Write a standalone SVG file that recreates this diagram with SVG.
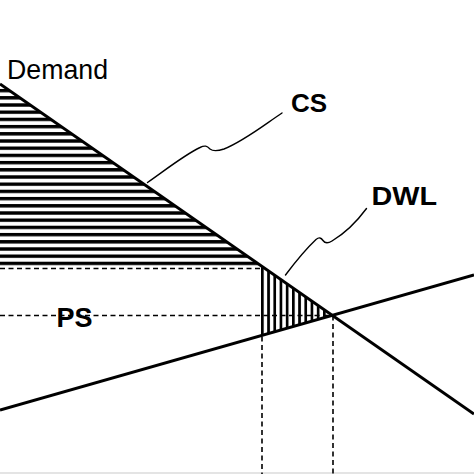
<svg xmlns="http://www.w3.org/2000/svg" width="474" height="474" viewBox="0 0 474 474">
<defs>
<pattern id="hstripe" patternUnits="userSpaceOnUse" x="0" y="2.5" width="10" height="7.2"><rect x="0" y="0" width="10" height="3.4" fill="#000"/></pattern>
<pattern id="vstripe" patternUnits="userSpaceOnUse" x="261" y="0" width="6.2" height="10"><rect x="0" y="0" width="2.7" height="10" fill="#000"/></pattern>
<style>
.dash{stroke:#000;stroke-width:1.6;stroke-dasharray:5 3.5;fill:none}
.curve{stroke:#000;stroke-width:3;fill:none}
.lead{stroke:#000;stroke-width:1.4;fill:none;stroke-linecap:round}
.lbl{font-family:"Liberation Sans",Arial,sans-serif;fill:#000}
.b{font-weight:bold}
</style>
</defs>
<rect x="0" y="0" width="474" height="474" fill="#fff"/>
<rect x="0" y="472" width="474" height="2" fill="#e4e4e4"/>
<g id="areas">
<polygon id="cs-area" points="0,84 264.4,268 0,268" fill="url(#hstripe)"/>
<polygon id="dwl-area" points="261,265.7 261,335.7 333,315.5" fill="url(#vstripe)"/>
</g>
<g id="connectors">
<line class="dash" x1="0" y1="268.5" x2="262" y2="268.5"/>
<line class="dash" x1="262" y1="268.5" x2="262" y2="474"/>
<line class="dash" x1="0" y1="315.5" x2="333" y2="315.5"/>
<line class="dash" x1="333" y1="315.5" x2="333" y2="474"/>
<line id="demand" class="curve" x1="0" y1="84" x2="474" y2="414"/>
<line id="supply" class="curve" x1="0" y1="410" x2="474" y2="275"/>
<path id="cs-leader" class="lead" d="M147.5,182.5 C168,168 186,154 200,147.5 C205,145 207,146 210,149 C213,151.5 218,151 224,149 C244,141 264,125 282,113"/>
<path id="dwl-leader" class="lead" d="M285.5,275 C296,261 307,248 316,239.5 C319,237 321,237.5 323,240.5 C325,243.5 328,243.5 332,241 C347,232 358,220 366.5,208.5"/>
</g>
<g id="label-demand"><text class="lbl" x="7" y="78.5" font-size="27" textLength="101" lengthAdjust="spacingAndGlyphs">Demand</text></g>
<g id="label-cs"><text class="lbl b" x="291" y="111.7" font-size="26">CS</text></g>
<g id="label-dwl"><text class="lbl b" x="371.5" y="205" font-size="26" textLength="65.5" lengthAdjust="spacingAndGlyphs">DWL</text></g>
<g id="label-ps"><text class="lbl b" x="56.5" y="326.7" font-size="27">PS</text></g>
</svg>
